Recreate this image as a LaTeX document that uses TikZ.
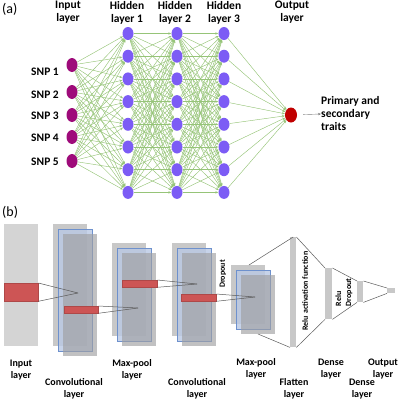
\documentclass[tikz,border=0pt]{standalone}
\usepackage{fontspec}
\setmainfont{Carlito}
\usetikzlibrary{arrows.meta,shapes.geometric}

\definecolor{snpcol}{RGB}{158,11,122}
\definecolor{hidcol}{RGB}{124,92,245}
\definecolor{outcol}{RGB}{192,0,0}
\definecolor{linkcol}{RGB}{150,196,120}
\definecolor{redbar}{RGB}{205,85,85}
\definecolor{inputgray}{RGB}{212,212,212}
\definecolor{planegray}{RGB}{200,200,200}
\definecolor{planeblue}{RGB}{185,200,228}
\definecolor{edgeblue}{RGB}{110,145,205}
\definecolor{frontgray}{RGB}{160,160,162}
\definecolor{wire}{RGB}{90,90,90}

% one conv / pool block: left x, top y, height
\newcommand{\layerstack}[3]{%
  \fill[planegray] (#1,#2) rectangle ++(34,#3);
  \filldraw[fill=planeblue, draw=edgeblue, fill opacity=0.8, line width=0.5pt] ({#1+5},{#2+5}) rectangle ++(34,#3);
  \fill[frontgray, fill opacity=0.65] ({#1+10},{#2+10}) rectangle ++(34,#3);
}

\begin{document}
\begin{tikzpicture}[x=1pt, y=-1pt,
  innode/.style={ellipse, fill=snpcol, minimum width=11pt, minimum height=14pt, inner sep=0pt},
  hidnode/.style={ellipse, fill=hidcol, minimum width=11pt, minimum height=13pt, inner sep=0pt},
  outnode/.style={ellipse, fill=outcol, minimum width=12pt, minimum height=15pt, inner sep=0pt},
  link/.style={draw=linkcol, line width=0.45pt, -{Stealth[length=3pt,width=2.4pt]}},
  lab/.style={font=\fontsize{11.5}{13}\selectfont\bfseries, align=center, inner sep=0pt},
  blab/.style={font=\fontsize{10}{12}\selectfont\bfseries, align=center, inner sep=0pt},
  rlab/.style={font=\fontsize{8}{10}\selectfont\bfseries, rotate=90, inner sep=0pt},
  tag/.style={font=\fontsize{14}{16}\selectfont, anchor=west, inner sep=0pt},
  redbox/.style={rectangle, fill=redbar, draw=redbar!85!black, line width=0.3pt, inner sep=0pt, anchor=north west},
  bar/.style={rectangle, fill=planegray, inner sep=0pt, anchor=north west},
  wireline/.style={draw=wire, line width=0.5pt}]
  \useasboundingbox (0,0) rectangle (400,402);

  %% (a) fully connected network
  \node[tag] (taga) at (2,9) {(a)};
  \node[lab] (inlab) at (68,12.5) {Input\\layer};
  \node[lab] (h1lab) at (127,12.5) {Hidden\\layer 1};
  \node[lab] (h2lab) at (175,12.5) {Hidden\\layer 2};
  \node[lab] (h3lab) at (224,12.5) {Hidden\\layer 3};
  \node[lab] (outlab) at (292,12.5) {Output\\layer};

  \foreach \i/\y/\ly in {1/65/72, 2/92/95, 3/115/116, 4/137/138, 5/161/162}{
    \node[innode] (in\i) at (72,\y) {};
    \node[lab, anchor=east] (snp\i) at (59,\ly) {SNP \i};
  }
  \foreach \l/\x in {1/128, 2/177, 3/224}
    \foreach \i in {1,...,8}
      \node[hidnode] (h\l-\i) at (\x,{33.5+(\i-1)*22.7}) {};
  \node[outnode] (out) at (291,115) {};

  \foreach \i in {1,...,5}
    \foreach \j in {1,...,8}
      \draw[link] (in\i) -- (h1-\j);
  \foreach \i in {1,...,8}
    \foreach \j in {1,...,8}{
      \draw[link] (h1-\i) -- (h2-\j);
      \draw[link] (h2-\i) -- (h3-\j);
    }
  \foreach \i in {1,...,8}
    \draw[link] (h3-\i) -- (out);

  \node[lab, anchor=west, align=left] (traits) at (321,114) {Primary and\\secondary\\traits};
  \draw[gray, line width=0.4pt, shorten <=6pt, -{Stealth[length=3pt,width=2.4pt]}] (out) -- (traits.west);

  %% (b) convolutional network
  \node[tag] (tagb) at (2,212) {(b)};
  \fill[inputgray] (4,224) rectangle (38,346);
  \layerstack{53}{224}{122}
  \layerstack{112}{243}{93}
  \layerstack{172}{243}{93}
  \layerstack{231}{265}{59}

  \node[redbox, minimum width=34pt, minimum height=18pt] (red1) at (4,283) {};
  \node[redbox, minimum width=34pt, minimum height=7pt] (red2) at (64,306) {};
  \node[redbox, minimum width=35pt, minimum height=7pt] (red3) at (122,280) {};
  \node[redbox, minimum width=35pt, minimum height=7pt] (red4) at (181,294) {};

  \coordinate (tip1) at (78,293);
  \coordinate (tip2) at (138,308);
  \coordinate (tip3) at (197,284);
  \coordinate (tip4) at (255,297);
  \foreach \k in {1,...,4}{
    \draw[wireline] (red\k.north east) -- (tip\k);
    \draw[wireline] (red\k.south east) -- (tip\k);
  }

  \node[bar, minimum width=6pt, minimum height=110pt] (flat) at (290,237) {};
  \node[bar, minimum width=7pt, minimum height=51pt] (dense1) at (325,268) {};
  \node[bar, minimum width=6pt, minimum height=21pt] (dense2) at (357,281) {};
  \node[bar, minimum width=8pt, minimum height=5pt] (outbar) at (387,288) {};

  \coordinate (mptop) at (249,265);
  \coordinate (mpbot) at (258,334);
  \draw[wireline] (mptop) -- (flat.north);
  \draw[wireline] (mpbot) -- (flat.south west);
  \draw[wireline] (flat.north east) -- (dense1.north west);
  \draw[wireline] (flat.south east) -- (dense1.south west);
  \draw[wireline] (dense1.north east) -- (dense2.north west);
  \draw[wireline] (dense1.south east) -- (dense2.south west);
  \draw[wireline] (dense2.north east) -- (outbar.north west);
  \draw[wireline] (dense2.south east) -- (outbar.south west);

  \node[rlab] (drop1) at (223,274) {Dropout};
  \node[rlab] (relu1) at (305,291) {Relu activation function};
  \node[rlab, align=left] (relu2) at (344,292.5) {Relu\\Dropout};

  \node[blab] (binlab) at (21,370) {Input\\layer};
  \node[blab] (conv1lab) at (74,388.5) {Convolutional\\layer};
  \node[blab] (pool1lab) at (132,370) {Max-pool\\layer};
  \node[blab] (conv2lab) at (197,388.5) {Convolutional\\layer};
  \node[blab] (pool2lab) at (256,369) {Max-pool\\layer};
  \node[blab] (flatlab) at (294,389) {Flatten\\layer};
  \node[blab] (dense1lab) at (331,369) {Dense\\layer};
  \node[blab] (dense2lab) at (362,389) {Dense\\layer};
  \node[blab] (outblab) at (383,369) {Output\\layer};
\end{tikzpicture}
\end{document}
